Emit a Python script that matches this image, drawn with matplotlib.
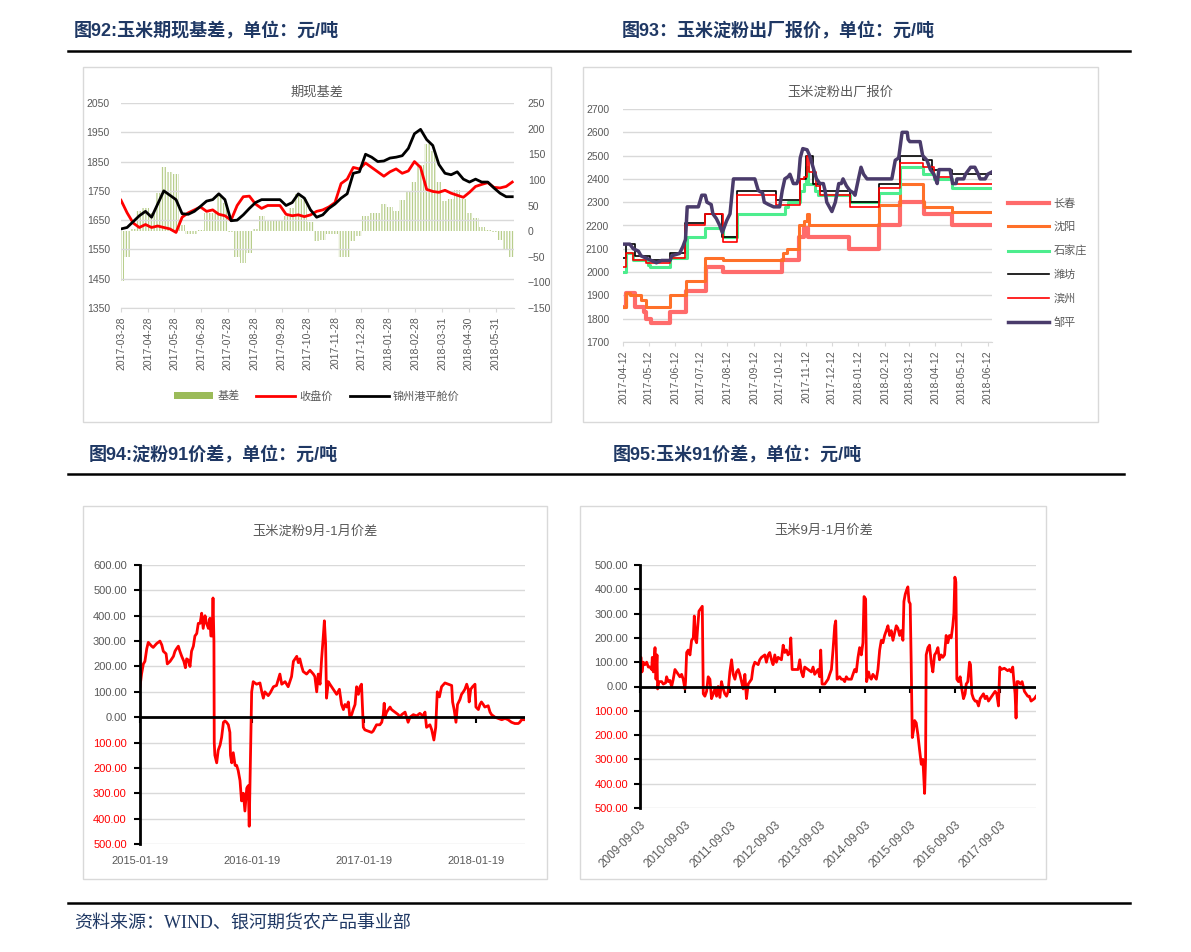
import numpy as np
import pandas as pd
import matplotlib
matplotlib.use("Agg")
import matplotlib.pyplot as plt
import matplotlib.dates as mdates
from matplotlib.lines import Line2D
from matplotlib.patches import Rectangle, Patch

W, H = 1191, 952
NAVY = "#1f3864"
GRAY = "#595959"
GRID = "#d9d9d9"
RED = "#ff0000"

plt.rcParams["font.family"] = ["Liberation Sans", "Noto Sans CJK SC", "DejaVu Sans"]
plt.rcParams["hatch.linewidth"] = 0.9

# ---- 图92 玉米期现基差 (weekly samples) ----
c1_start = "2017-03-28"
futures_close = [1718, 1675, 1640, 1625, 1635, 1625, 1630, 1625, 1620, 1608,
                 1660, 1675, 1685, 1695, 1680, 1685, 1670, 1665, 1650, 1700,
                 1730, 1732, 1705, 1690, 1700, 1700, 1700, 1670, 1665, 1668,
                 1662, 1668, 1680, 1685, 1695, 1710, 1775, 1790, 1830, 1825,
                 1845, 1830, 1815, 1800, 1815, 1825, 1810, 1818, 1850, 1830,
                 1755, 1748, 1745, 1752, 1742, 1735, 1728, 1745, 1765, 1772,
                 1778, 1762, 1760, 1765, 1780]
jinzhou_spot = [1620, 1625, 1645, 1665, 1680, 1660, 1705, 1750, 1735, 1720,
                1672, 1670, 1680, 1697, 1715, 1720, 1740, 1720, 1648, 1650,
                1668, 1690, 1710, 1720, 1720, 1720, 1720, 1700, 1710, 1740,
                1725, 1685, 1660, 1668, 1690, 1705, 1725, 1740, 1810, 1815,
                1875, 1865, 1850, 1852, 1862, 1865, 1870, 1895, 1945, 1960,
                1925, 1905, 1840, 1810, 1805, 1815, 1790, 1780, 1790, 1780,
                1780, 1760, 1742, 1730, 1730]
c1_ticks = ["2017-03-28", "2017-04-28", "2017-05-28", "2017-06-28", "2017-07-28",
            "2017-08-28", "2017-09-28", "2017-10-28", "2017-11-28", "2017-12-28",
            "2018-01-28", "2018-02-28", "2018-03-31", "2018-04-30", "2018-05-31"]

# ---- 图93 玉米淀粉出厂报价 (days after start, price) ----
c2_start = "2017-04-12"
cc_days = [0, 4, 14, 25, 27, 33, 55, 74, 97, 117, 186, 205, 211, 216, 264, 299, 323, 351, 352, 384, 431]
cc_vals = [1850, 1910, 1850, 1830, 1800, 1780, 1830, 1920, 2020, 2000, 2050, 2150, 2190, 2150, 2100,
           2200, 2300, 2260, 2250, 2200, 2200]
sy_days = [0, 4, 8, 21, 27, 55, 74, 96, 117, 187, 192, 206, 211, 215, 217, 299, 323, 350, 352, 384, 431]
sy_vals = [1850, 1910, 1900, 1880, 1850, 1900, 1960, 2060, 2050, 2080, 2100, 2200, 2220, 2250, 2200,
           2290, 2380, 2300, 2280, 2260, 2260]
sjz_days = [0, 4, 12, 29, 31, 55, 75, 96, 117, 133, 189, 193, 207, 211, 214, 216, 224, 228, 265, 299,
            323, 350, 363, 384, 431]
sjz_vals = [2000, 2080, 2050, 2030, 2020, 2060, 2150, 2190, 2150, 2250, 2280, 2300, 2350, 2380, 2450,
            2380, 2350, 2330, 2300, 2340, 2450, 2420, 2400, 2360, 2360]
wf_days = [0, 4, 14, 31, 55, 73, 96, 116, 133, 179, 207, 214, 222, 230, 265, 299, 324, 350, 361, 384, 431]
wf_vals = [2060, 2120, 2070, 2050, 2080, 2210, 2250, 2150, 2350, 2310, 2400, 2500, 2380, 2350, 2300,
           2380, 2500, 2480, 2440, 2420, 2420]
bz_days = [0, 4, 12, 27, 55, 73, 96, 117, 133, 179, 207, 211, 215, 217, 226, 230, 265, 299, 324, 350,
           363, 384, 431]
bz_vals = [2020, 2080, 2050, 2040, 2060, 2200, 2250, 2130, 2330, 2290, 2400, 2410, 2500, 2430, 2370,
           2330, 2280, 2360, 2470, 2450, 2410, 2380, 2380]
zp_days = [0, 8, 12, 18, 21, 27, 33, 39, 45, 55,
           57, 66, 70, 73, 75, 88, 92, 96, 98, 103,
           105, 109, 113, 116, 121, 125, 129, 154, 158, 163,
           165, 170, 176, 183, 186, 189, 193, 195, 199, 203,
           205, 207, 210, 215, 218, 222, 226, 230, 234, 236,
           238, 241, 244, 248, 252, 255, 257, 261, 265, 269,
           271, 275, 278, 281, 285, 314, 318, 322, 326, 332,
           333, 335, 347, 350, 355, 359, 363, 365, 367, 369,
           382, 385, 389, 390, 398, 400, 406, 411, 415, 417,
           423, 426, 431]
zp_vals = [2120, 2120, 2100, 2090, 2070, 2060, 2050, 2040, 2050, 2050,
           2070, 2080, 2110, 2140, 2280, 2280, 2330, 2330, 2300, 2290,
           2250, 2230, 2200, 2170, 2220, 2250, 2400, 2400, 2350, 2340,
           2300, 2290, 2280, 2280, 2350, 2400, 2410, 2420, 2380, 2380,
           2400, 2490, 2530, 2525, 2500, 2450, 2400, 2380, 2380, 2350,
           2300, 2280, 2260, 2300, 2380, 2380, 2400, 2370, 2350, 2340,
           2330, 2400, 2450, 2420, 2400, 2400, 2480, 2490, 2600, 2600,
           2570, 2560, 2560, 2500, 2480, 2440, 2420, 2400, 2380, 2440,
           2440, 2380, 2380, 2400, 2400, 2420, 2450, 2450, 2420, 2400,
           2400, 2420, 2430]
c2_ticks = ["2017-04-12", "2017-05-12", "2017-06-12", "2017-07-12", "2017-08-12",
            "2017-09-12", "2017-10-12", "2017-11-12", "2017-12-12", "2018-01-12",
            "2018-02-12", "2018-03-12", "2018-04-12", "2018-05-12", "2018-06-12"]

# ---- 图94 玉米淀粉9月-1月价差 ----
c3_start = "2015-01-19"
days3 = [0, 5, 11, 16, 22, 27, 38, 43, 54, 65,
         71, 76, 85, 89, 98, 109, 114, 119, 125, 130,
         136, 143, 148, 152, 158, 163, 168, 174, 179, 185,
         190, 196, 201, 206, 212, 217, 223, 228, 231, 235,
         238, 241, 242, 244, 250, 255, 261, 266, 272, 277,
         282, 288, 293, 295, 299, 304, 310, 315, 320, 326,
         331, 337, 342, 348, 353, 356, 361, 364, 369, 380,
         391, 397, 402, 407, 418, 424, 435, 445, 456, 462,
         473, 483, 494, 500, 511, 516, 521, 527, 532, 543,
         554, 565, 570, 576, 581, 587, 592, 597, 601, 605,
         608, 614, 619, 630, 641, 650, 657, 663, 668, 674,
         679, 684, 690, 695, 701, 706, 712, 717, 722, 728,
         733, 744, 755, 760, 771, 782, 788, 793, 796, 798,
         804, 815, 820, 831, 842, 847, 853, 864, 874, 880,
         891, 902, 912, 923, 929, 934, 945, 951, 958, 964,
         969, 976, 983, 994, 1005, 1016, 1019, 1024, 1030, 1035,
         1043, 1048, 1054, 1059, 1065, 1070, 1073, 1078, 1084, 1092,
         1095, 1103, 1108, 1113, 1119, 1124, 1135, 1141, 1146, 1157,
         1168, 1179, 1190, 1200, 1211, 1222, 1233, 1238, 1244, 1255]
spread3 = [120, 170, 210, 220, 270, 295, 280, 275, 290, 300,
           285, 260, 250, 210, 220, 240, 260, 270, 280, 260,
           240, 220, 195, 230, 225, 200, 260, 280, 320, 330,
           370, 370, 410, 350, 400, 370, 350, 390, 320, 320,
           470, 300, -100, -150, -180, -130, -110, -80, -20, -15,
           -20, -30, -60, -150, -180, -140, -190, -190, -210, -250,
           -330, -300, -370, -280, -270, -430, -100, 100, 140, 130,
           135, 100, 75, 100, 85, 95, 120, 125, 170, 130,
           140, 120, 160, 220, 240, 215, 230, 200, 180, 170,
           185, 170, 160, 100, 170, 130, 230, 310, 380, 290,
           75, 140, 130, 110, 90, 110, 50, 30, 50, 40,
           60, 0, 10, 30, 50, 120, 90, 120, 130, -40,
           -50, -55, -60, -55, -30, -30, -20, 10, 55, 0,
           20, 40, 30, 20, 10, 0, 10, 20, -20, 0,
           10, 5, 15, 5, 20, -40, -30, -50, -90, -40,
           100, 80, 120, 135, 130, 125, 60, 30, -20, 50,
           70, 90, 100, 110, 130, 110, 60, 110, 120, 130,
           40, 30, 50, 60, 50, 40, 45, 20, 10, 0,
           -5, -10, -5, -10, -20, -25, -25, -20, -10, -10]
c3_ticks = ["2015-01-19", "2016-01-19", "2017-01-19", "2018-01-19"]

# ---- 图95 玉米9月-1月价差 ----
c4_start = "2009-09-03"
days4 = [0, 8, 16, 27, 41, 54, 68, 81, 95, 100,
         108, 122, 130, 138, 143, 154, 176, 189, 208, 216,
         230, 243, 257, 270, 284, 297, 311, 324, 338, 351,
         365, 370, 379, 392, 406, 419, 433, 441, 452, 460,
         468, 479, 492, 506, 514, 527, 541, 554, 568, 581,
         595, 608, 622, 635, 649, 662, 676, 689, 703, 716,
         730, 744, 757, 771, 784, 798, 811, 825, 838, 852,
         865, 879, 892, 906, 919, 933, 960, 973, 987, 1014,
         1027, 1041, 1054, 1068, 1081, 1095, 1108, 1122, 1149, 1163,
         1176, 1190, 1203, 1217, 1225, 1236, 1257, 1284, 1298, 1311,
         1325, 1338, 1365, 1392, 1406, 1419, 1433, 1446, 1460, 1468,
         1479, 1501, 1514, 1528, 1541, 1555, 1568, 1582, 1590, 1601,
         1622, 1636, 1649, 1663, 1676, 1690, 1703, 1717, 1730, 1744,
         1757, 1771, 1784, 1798, 1811, 1820, 1833, 1841, 1857, 1866,
         1879, 1892, 1906, 1920, 1933, 1947, 1960, 1974, 1987, 2001,
         2014, 2028, 2041, 2055, 2068, 2082, 2095, 2109, 2122, 2136,
         2144, 2155, 2168, 2176, 2185, 2195, 2203, 2212, 2222, 2231,
         2244, 2258, 2271, 2285, 2298, 2312, 2320, 2325, 2339, 2352,
         2366, 2379, 2393, 2406, 2420, 2433, 2447, 2460, 2474, 2487,
         2501, 2514, 2528, 2541, 2550, 2558, 2566, 2574, 2587, 2601,
         2614, 2628, 2641, 2650, 2663, 2677, 2685, 2696, 2709, 2723,
         2736, 2750, 2763, 2777, 2790, 2804, 2817, 2831, 2844, 2858,
         2871, 2885, 2898, 2912, 2923, 2933, 2960, 2987, 3001, 3015,
         3028, 3036, 3047, 3055, 3063, 3074, 3090, 3104, 3123, 3136,
         3150, 3163, 3177, 3190, 3204, 3217]
spread4 = [110, 120, 60, 100, 90, 100, 80, 80, 70, 120,
           60, 160, 30, 130, -10, 20, 20, 10, 15, 40,
           20, 25, 0, 30, 70, 60, 50, 40, 50, 30,
           -10, 20, 140, 150, 130, 190, 200, 290, 190, 180,
           240, 310, 320, 330, -30, -40, -20, 40, 30, -50,
           -30, -10, -40, 0, -45, 20, -10, -30, -40, -20,
           60, 110, 50, 30, 60, 70, 50, 20, -10, 50,
           -50, 10, 20, 30, 80, 100, 90, 110, 120, 130,
           100, 130, 140, 110, 90, 130, 100, 120, 110, 170,
           140, 150, 130, 140, 200, 70, 70, 70, 110, 60,
           40, 80, 70, 60, 80, 50, 60, 70, 40, 150,
           10, 10, 20, 30, 50, 70, 150, 250, 270, 30,
           40, 30, 30, 20, 40, 30, 30, 30, 50, 70,
           60, 120, 160, 130, 180, 370, 360, 20, 60, 40,
           30, 50, 40, 30, 70, 150, 190, 180, 210, 230,
           250, 210, 230, 190, 220, 250, 240, 210, 230, 190,
           350, 380, 400, 410, 350, 340, 100, -210, -180, -140,
           -150, -200, -260, -320, -300, -440, -300, 130, 160, 170,
           100, 60, 130, 140, 160, 110, 130, 120, 130, 210,
           180, 210, 200, 250, 300, 450, 430, 30, 20, 40,
           -10, -50, -30, 10, 20, 100, 90, -30, -50, -60,
           -60, -80, -50, -40, -30, -50, -40, -60, -50, -40,
           -30, -20, -30, -80, 80, 70, 75, 65, 70, 60,
           80, 30, -30, -130, 20, 20, 10, 20, -20, -30,
           -40, -40, -60, -55, -50, -40]
c4_ticks = ["2009-09-03", "2010-09-03", "2011-09-03", "2012-09-03", "2013-09-03",
            "2014-09-03", "2015-09-03", "2016-09-03", "2017-09-03"]


def px_axes(fig, left, top, right, bottom):
    return fig.add_axes([left / W, 1 - bottom / H, (right - left) / W, (bottom - top) / H])


def box(fig, left, top, right, bottom):
    fig.add_artist(Rectangle((left / W, 1 - bottom / H), (right - left) / W, (bottom - top) / H,
                             transform=fig.transFigure, fill=False, ec=GRID, lw=1))


def hrule(fig, y, x0, x1):
    fig.add_artist(Line2D([x0 / W, x1 / W], [1 - y / H] * 2, transform=fig.transFigure,
                          color="black", lw=1.8))


def ftext(fig, x, y, s, **kw):
    fig.text(x / W, 1 - y / H, s, va="center", **kw)


def on_days(start, days):
    return pd.Timestamp(start) + pd.to_timedelta(days, unit="D")


def spread_axes(ax, dates, vals, start, end_day, lo, hi, ticks, pad_y):
    ax.plot(dates, vals, color=RED, lw=2, zorder=3)
    ax.axhline(0, color="black", lw=2, zorder=4)
    ax.set_xlim(pd.Timestamp(start), pd.Timestamp(start) + pd.Timedelta(days=end_day))
    ax.set_ylim(lo, hi)
    yt = np.arange(lo, hi + 1, 100)
    ax.set_yticks(yt)
    ax.set_yticklabels([f"{abs(v):.2f}" for v in yt])
    ax.tick_params(axis="y", direction="out", length=4, width=1.5, color="black",
                   labelsize=8, pad=pad_y)
    for lab, v in zip(ax.get_yticklabels(), yt):
        lab.set_color(RED if v < 0 else GRAY)
    ax.yaxis.grid(True, color=GRID, lw=1)
    ax.set_axisbelow(True)
    for s in ax.spines.values():
        s.set_visible(False)
    ax.spines["left"].set_visible(True)
    ax.spines["left"].set_linewidth(2)
    ax.spines["left"].set_zorder(5)
    tk = pd.to_datetime(ticks)
    ax.set_xticks(tk)
    sec = ax.secondary_xaxis((0 - lo) / (hi - lo) - 0.0001)
    sec.set_xticks(mdates.date2num(tk))
    sec.xaxis.set_ticks_position("bottom")
    sec.tick_params(axis="x", direction="out", length=4, width=1.5, color="black",
                    labelbottom=False, labeltop=False)
    for s in sec.spines.values():
        s.set_visible(False)
    return tk


fig = plt.figure(figsize=(W / 100, H / 100), dpi=100)

# headers and rules
hdr = dict(fontsize=13, weight="bold", color=NAVY)
ftext(fig, 74, 31, "图92:玉米期现基差，单位：元/吨", **hdr)
ftext(fig, 622, 31, "图93：玉米淀粉出厂报价，单位：元/吨", **hdr)
ftext(fig, 89, 455, "图94:淀粉91价差，单位：元/吨", **hdr)
ftext(fig, 613, 455, "图95:玉米91价差，单位：元/吨", **hdr)
hrule(fig, 51, 68, 1130)
hrule(fig, 474, 68, 1124)
hrule(fig, 903, 68, 1130)
ftext(fig, 74, 924, "资料来源：WIND、银河期货农产品事业部", fontsize=13, color=NAVY,
      family=["Liberation Serif", "Noto Sans CJK SC"])

box(fig, 83, 67, 551, 422)
box(fig, 583, 67, 1098, 422)
box(fig, 83, 506, 547, 879)
box(fig, 580, 506, 1046, 879)

# ---- chart 1 ----
d1 = pd.date_range(c1_start, periods=len(futures_close), freq="7D")
basis = np.array(jinzhou_spot) - np.array(futures_close)
ax1 = px_axes(fig, 121, 103, 514, 308)
ax1b = ax1.twinx()
ax1.set_zorder(ax1b.get_zorder() + 1)
ax1.patch.set_visible(False)
ax1b.bar(d1, basis, width=7, facecolor="none", edgecolor="#b8ce8c", hatch="||||||", lw=0)
l_red, = ax1.plot(d1, futures_close, color=RED, lw=2)
l_blk, = ax1.plot(d1, jinzhou_spot, color="black", lw=2)
ax1.set_ylim(1350, 2050)
ax1.set_yticks(np.arange(1350, 2051, 100))
ax1b.set_ylim(-150, 250)
ax1b.set_yticks(np.arange(-150, 251, 50))
ax1.set_xlim(d1[0], d1[0] + pd.Timedelta(days=450))
ax1.set_xticks(pd.to_datetime(c1_ticks))
ax1.set_xticklabels(c1_ticks, rotation=90)
ax1.yaxis.grid(True, color=GRID, lw=1)
for a in (ax1, ax1b):
    for s in a.spines.values():
        s.set_visible(False)
ax1.spines["bottom"].set_visible(True)
ax1.spines["bottom"].set_color(GRID)
ax1.tick_params(axis="y", length=0, labelsize=7.5, labelcolor=GRAY, pad=8)
ax1b.tick_params(axis="y", length=0, labelsize=7.5, labelcolor=GRAY, pad=10)
ax1.tick_params(axis="x", length=3, color=GRID, labelsize=7.5, labelcolor=GRAY, pad=3)
ftext(fig, 317, 92, "期现基差", ha="center", fontsize=9.5, color=GRAY)
fig.legend([Patch(facecolor="#9bbb59"), l_red, l_blk], ["基差", "收盘价", "锦州港平舱价"],
           loc="center", bbox_to_anchor=(317 / W, 1 - 396 / H), ncol=3, frameon=False,
           fontsize=8, labelcolor=GRAY, handlelength=3.5, handleheight=0.6,
           columnspacing=1.5, handletextpad=0.4)

# ---- chart 2 ----
ax2 = px_axes(fig, 623, 109, 992, 342)
series2 = [
    ("长春", cc_days, cc_vals, "#ff6b6b", 3.0, "steps-post"),
    ("沈阳", sy_days, sy_vals, "#ff7029", 2.2, "steps-post"),
    ("石家庄", sjz_days, sjz_vals, "#4ded8e", 2.2, "steps-post"),
    ("潍坊", wf_days, wf_vals, "black", 1.2, "steps-post"),
    ("滨州", bz_days, bz_vals, RED, 1.2, "steps-post"),
    ("邹平", zp_days, zp_vals, "#4a3b6b", 2.5, "default"),
]
h2 = []
for name, dd, vv, col, lw, ds in series2:
    ln, = ax2.plot(on_days(c2_start, dd), vv, color=col, lw=lw, drawstyle=ds, label=name)
    h2.append(ln)
ax2.set_ylim(1700, 2700)
ax2.set_yticks(np.arange(1700, 2701, 100))
ax2.set_xlim(pd.Timestamp(c2_start), pd.Timestamp(c2_start) + pd.Timedelta(days=431))
ax2.set_xticks(pd.to_datetime(c2_ticks))
ax2.set_xticklabels(c2_ticks, rotation=90)
ax2.yaxis.grid(True, color=GRID, lw=1)
ax2.set_axisbelow(True)
for s in ax2.spines.values():
    s.set_visible(False)
ax2.spines["bottom"].set_visible(True)
ax2.spines["bottom"].set_color(GRID)
ax2.tick_params(axis="y", length=0, labelsize=7.5, labelcolor=GRAY, pad=10)
ax2.tick_params(axis="x", length=3, color=GRID, labelsize=7.5, labelcolor=GRAY, pad=3)
ftext(fig, 840, 92, "玉米淀粉出厂报价", ha="center", fontsize=9.5, color=GRAY)
fig.legend(h2, [s[0] for s in series2], loc="center left",
           bbox_to_anchor=(1008 / W, 1 - 263 / H), frameon=False, fontsize=8,
           labelcolor=GRAY, handlelength=3.7, handletextpad=0.4, labelspacing=1.2,
           borderpad=0, borderaxespad=0)

# ---- chart 3 ----
ax3 = px_axes(fig, 140, 565, 525, 844)
spread_axes(ax3, on_days(c3_start, days3), spread3, c3_start, 1255, -500, 600, c3_ticks, 5.5)
ax3.set_xticklabels(c3_ticks)
ax3.tick_params(axis="x", length=0, labelsize=8, labelcolor=GRAY, pad=9)
ftext(fig, 315, 531, "玉米淀粉9月-1月价差", ha="center", fontsize=9.5, color=GRAY)

# ---- chart 4 ----
ax4 = px_axes(fig, 640, 565, 1036, 808)
spread_axes(ax4, on_days(c4_start, days4), spread4, c4_start, 3217, -500, 500, c4_ticks, 4.5)
ax4.set_xticklabels(c4_ticks, rotation=45, ha="right", rotation_mode="anchor")
ax4.tick_params(axis="x", length=0, labelsize=8.5, labelcolor=GRAY, pad=8)
ftext(fig, 824, 531, "玉米9月-1月价差", ha="center", fontsize=9.5, color=GRAY)

fig.savefig("out.png", dpi=100)
